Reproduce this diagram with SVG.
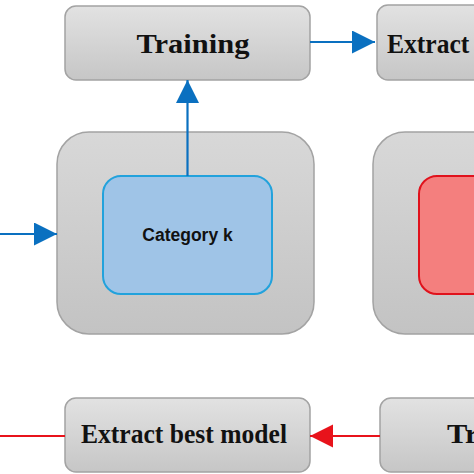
<svg xmlns="http://www.w3.org/2000/svg" width="474" height="474" viewBox="0 0 474 474">
<style>
.box{stroke:#a3a3a3;stroke-width:1.5;fill:url(#gBox)}
.outer{stroke:#a3a3a3;stroke-width:1.5;fill:url(#gOuter)}
.title{font-family:"Liberation Serif","DejaVu Serif",serif;font-weight:bold;font-size:28px;fill:#111}
.cat{font-family:"Liberation Sans",Arial,sans-serif;font-weight:bold;font-size:17.5px;fill:#111}
.blue{stroke:#0a70c0;stroke-width:2.2;fill:none}
.red{stroke:#e8131b;stroke-width:2;fill:none}
</style>
<defs>
<linearGradient id="gBox" x1="0" y1="0" x2="0" y2="1">
<stop offset="0" stop-color="#e2e2e2"/>
<stop offset="1" stop-color="#c6c6c6"/>
</linearGradient>
<linearGradient id="gOuter" x1="0" y1="0" x2="0" y2="1">
<stop offset="0" stop-color="#d8d8d8"/>
<stop offset="1" stop-color="#c3c3c3"/>
</linearGradient>
<marker id="arrB" viewBox="0 0 10 10" refX="10" refY="5" markerUnits="userSpaceOnUse" markerWidth="23" markerHeight="23" orient="auto">
<path d="M0,0 L10,5 L0,10 Z" fill="#0a70c0"/>
</marker>
<marker id="arrR" viewBox="0 0 10 10" refX="10" refY="5" markerUnits="userSpaceOnUse" markerWidth="23" markerHeight="24" orient="auto">
<path d="M0,0 L10,5 L0,10 Z" fill="#e8131b"/>
</marker>
</defs>

<g id="outer-left">
<rect class="outer" x="57" y="132" width="257" height="202" rx="32"/>
</g>
<g id="outer-right">
<rect class="outer" x="373" y="132" width="257" height="202" rx="32"/>
</g>
<g id="category-k">
<rect x="103" y="176" width="169" height="118" rx="18" fill="#9fc4e7" stroke="#22a2dc" stroke-width="2"/>
<text class="cat" x="187.5" y="241" text-anchor="middle">Category k</text>
</g>
<g id="category-red">
<rect x="419" y="176" width="169" height="118" rx="18" fill="#f47f7e" stroke="#e0121c" stroke-width="2"/>
</g>
<g id="training-top">
<rect class="box" x="65" y="6" width="245" height="74" rx="11"/>
<text class="title" x="193" y="53" text-anchor="middle" textLength="113" lengthAdjust="spacingAndGlyphs">Training</text>
</g>
<g id="extract-top">
<rect class="box" x="377" y="5" width="245" height="75" rx="11"/>
<text class="title" x="387" y="53" textLength="206" lengthAdjust="spacingAndGlyphs">Extract best model</text>
</g>
<g id="extract-bottom">
<rect class="box" x="65" y="398" width="245" height="74" rx="11"/>
<text class="title" x="184" y="443" text-anchor="middle" textLength="206" lengthAdjust="spacingAndGlyphs">Extract best model</text>
</g>
<g id="training-bottom">
<rect class="box" x="380" y="398" width="245" height="74" rx="11"/>
<text class="title" x="447" y="443" textLength="113" lengthAdjust="spacingAndGlyphs">Training</text>
</g>

<g id="connectors">
<line class="blue" x1="310" y1="42" x2="375" y2="42" marker-end="url(#arrB)"/>
<line class="blue" x1="187.5" y1="176" x2="187.5" y2="80" marker-end="url(#arrB)"/>
<line class="blue" x1="0" y1="234" x2="57" y2="234" marker-end="url(#arrB)"/>
<line class="red" x1="380" y1="436" x2="310" y2="436" marker-end="url(#arrR)"/>
<line class="red" x1="0" y1="436" x2="65" y2="436"/>
</g>
</svg>
